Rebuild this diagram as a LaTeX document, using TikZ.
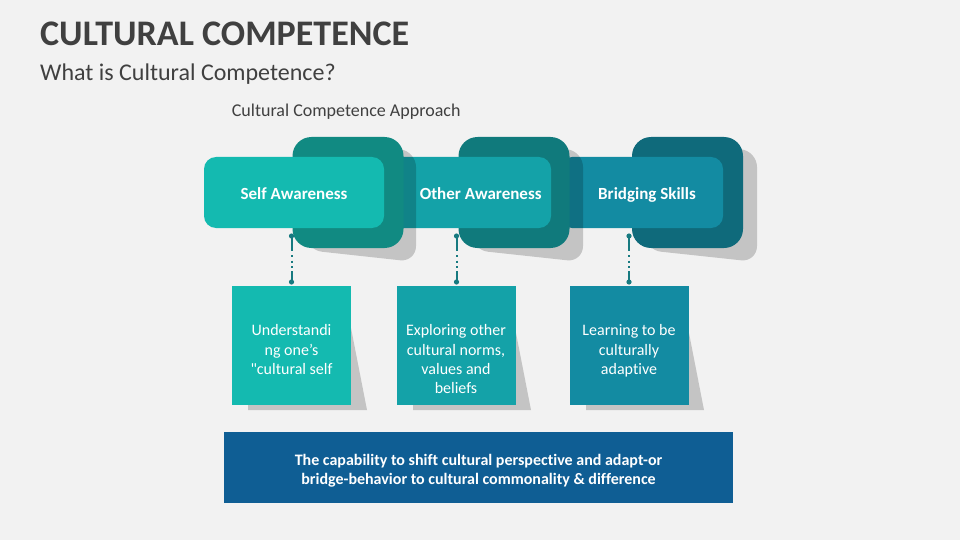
\documentclass[tikz,border=0pt]{standalone}
\usepackage{fontspec}
\setmainfont{Carlito}[Ligatures={TeXOff,NoCommon}]
\definecolor{bg}{HTML}{F2F2F2}
\definecolor{titlegray}{HTML}{404040}
\definecolor{lightA}{HTML}{14BAB0}
\definecolor{darkA}{HTML}{118A82}
\definecolor{lightB}{HTML}{14A2A8}
\definecolor{darkB}{HTML}{107A7C}
\definecolor{lightC}{HTML}{138BA2}
\definecolor{darkC}{HTML}{0F6A7B}
\definecolor{bannerblue}{HTML}{0F5E94}
\definecolor{pincol}{HTML}{177A80}
\tikzset{
  shadowfill/.style={fill=black, fill opacity=0.19},
  darksq/.style={rectangle, rounded corners=19pt, minimum width=111pt, minimum height=111pt, inner sep=0pt},
  lightbar/.style={rectangle, rounded corners=12pt, minimum height=71pt, inner sep=0pt},
  barlabel/.style={text=white, font=\fontsize{17}{20}\selectfont\bfseries, inner sep=0pt, anchor=base},
  lowbox/.style={rectangle, minimum width=119pt, minimum height=119pt, inner sep=0pt},
  lowtext/.style={text=white, font=\fontsize{16}{19.2}\selectfont, align=center, inner sep=0pt, anchor=north},
  pinline/.style={draw=pincol, line width=2pt},
  pindots/.style={draw=pincol, line width=2pt, dash pattern=on 2pt off 3.5pt},
}
\begin{document}
\begin{tikzpicture}[x=1pt,y=-1pt]
\useasboundingbox (0,0) rectangle (960,540);
\fill[bg] (0,0) rectangle (960,540);

% titles
\node[anchor=base west, inner sep=0pt, text=titlegray, font=\fontsize{36}{43}\selectfont\bfseries] (title) at (40,45.7) {CULTURAL COMPETENCE};
\node[anchor=base west, inner sep=0pt, text=titlegray, font=\fontsize{24}{29}\selectfont] (subtitle) at (40,81) {What is Cultural Competence?};
\node[anchor=base west, inner sep=0pt, text=titlegray, font=\fontsize{18}{22}\selectfont] (approach) at (231.7,116.7) {Cultural Competence Approach};

% group 3
\fill[shadowfill, rounded corners=16pt] (645,139) -- (757,151) -- (757,262) -- (645,250) -- cycle;
\node[darksq, fill=darkC] (d3) at (687.5,192.5) {};
\node[lightbar, fill=lightC, minimum width=163pt] (l3) at (641.5,192.5) {};
\node[barlabel] (t3) at (647,200) {Bridging Skills};

% group 2
\fill[shadowfill, rounded corners=16pt] (472,139) -- (583,151) -- (583,262) -- (472,250) -- cycle;
\node[darksq, fill=darkB] (d2) at (514,192.5) {};
\node[lightbar, fill=lightB, minimum width=161pt] (l2) at (470.5,192.5) {};
\node[barlabel] (t2) at (480.7,200) {Other Awareness};

% group 1
\fill[shadowfill, rounded corners=16pt] (306,139) -- (416,151) -- (416,262) -- (306,250) -- cycle;
\node[darksq, fill=darkA] (d1) at (348,192.5) {};
\node[lightbar, fill=lightA, minimum width=180pt] (l1) at (294,192.5) {};
\node[barlabel] (t1) at (294,200) {Self Awareness};

% lower boxes shadows
\fill[shadowfill] (300,328) -- (351,328) -- (367,410) -- (248,410) -- (248,390) -- cycle;
\fill[shadowfill] (465,328) -- (515,328) -- (531,410) -- (413,410) -- (413,390) -- cycle;
\fill[shadowfill] (638,328) -- (688,328) -- (704,410) -- (586,410) -- (586,390) -- cycle;

% lower boxes
\node[lowbox, fill=lightA] (b1) at (291.5,345.5) {};
\node[lowbox, fill=lightB] (b2) at (456,345.5) {};
\node[lowbox, fill=lightC] (b3) at (629,345.5) {};
\node[lowtext] (x1) at (291.5,324.5) {Understandi\\ng one’s\\"cultural self};
\node[lowtext] (x2) at (456,324.5) {Exploring other\\cultural norms,\\values and\\beliefs};
\node[lowtext] (x3) at (629,324.5) {Learning to be\\culturally\\adaptive};

% pins
\foreach \i/\x in {1/291.5, 2/456.5, 3/629}{
  \coordinate (p\i a) at (\x,236);
  \coordinate (p\i b) at (\x,251);
  \coordinate (p\i c) at (\x,255);
  \coordinate (p\i d) at (\x,269);
  \coordinate (p\i e) at (\x,271);
  \coordinate (p\i f) at (\x,282);
  \draw[pinline] (p\i a) -- (p\i b);
  \draw[pindots] (p\i c) -- (p\i d);
  \draw[pinline] (p\i e) -- (p\i f);
  \fill[pincol] (p\i a) circle (2.6pt);
  \fill[pincol] (p\i f) circle (2.6pt);
}

% banner
\node[rectangle, fill=bannerblue, minimum width=509pt, minimum height=71pt, inner sep=0pt] (banner) at (478.5,467.5) {};
\node[text=white, align=center, inner sep=0pt, font=\fontsize{16}{19.3}\selectfont\bfseries] (bannertext) at (478.5,470.5) {The capability to shift cultural perspective and adapt-or\\bridge-behavior to cultural commonality \& difference};
\end{tikzpicture}
\end{document}
